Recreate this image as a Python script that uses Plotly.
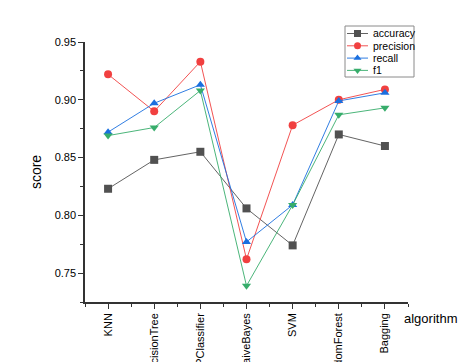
import plotly.graph_objects as go

categories = ["KNN", "DecisionTree", "MLPClassifier", "NaiveBayes", "SVM", "RandomForest", "Bagging"]
accuracy = [0.823, 0.848, 0.855, 0.806, 0.774, 0.870, 0.860]
precision = [0.922, 0.890, 0.933, 0.762, 0.878, 0.900, 0.909]
recall = [0.872, 0.897, 0.913, 0.777, 0.809, 0.899, 0.906]
f1 = [0.869, 0.876, 0.908, 0.739, 0.809, 0.887, 0.893]

series = [
    ("accuracy", accuracy, "#515151", "square"),
    ("precision", precision, "#F14040", "circle"),
    ("recall", recall, "#1A6FDF", "triangle-up"),
    ("f1", f1, "#37AD6B", "triangle-down"),
]

xpos = list(range(len(categories)))

# The page body has an 8px default margin; work in screen pixels and offset.
OFF = 8
SW, SH = 474, 362
W, H = SW - OFF, SH - OFF
# plot area (screen px)
L, R, T, B = 85, 408, 42, 302
TOP = 20  # top of the margin-enclosed area (screen px)


def px(x):
    return (x - L) / (R - L)


def py(y):
    return (B - y) / (B - TOP)


fig = go.Figure()
for name, vals, color, sym in series:
    fig.add_trace(go.Scatter(
        x=xpos, y=vals, name=name, mode="lines+markers",
        line=dict(color=color, width=0.9),
        marker=dict(symbol=sym, size=8, color=color),
        showlegend=False,
    ))

# compact legend box (Origin style)
lx0, lx1, ly0, ly1 = 345, 414, 26, 77
row0, rowh = 33.5, 12.3
shapes = [dict(type="rect", xref="paper", yref="paper", x0=px(lx0), x1=px(lx1),
               y0=py(ly0), y1=py(ly1),
               line=dict(color="#8a8a8a", width=1), fillcolor="white", layer="below")]
annotations = []
for i, (name, vals, color, sym) in enumerate(series):
    yy = row0 + i * rowh
    shapes.append(dict(type="line", xref="paper", yref="paper", x0=px(lx0 + 2), x1=px(lx0 + 23),
                       y0=py(yy), y1=py(yy), line=dict(color=color, width=0.9), layer="below"))
    fig.add_trace(go.Scatter(
        x=[lx0 + 12.5], y=[yy], xaxis="x3", yaxis="y3", mode="markers",
        marker=dict(symbol=sym, size=7, color=color), showlegend=False,
        cliponaxis=False, hoverinfo="skip",
    ))
    annotations.append(dict(text=name, x=px(lx0 + 26), y=py(yy), xref="paper", yref="paper",
                            xanchor="left", yanchor="middle", showarrow=False,
                            font=dict(size=10.5, color="#000")))

annotations.append(dict(text="algorithm", x=px(430.5), y=py(318), xref="paper", yref="paper",
                        xanchor="center", yanchor="middle", showarrow=False,
                        font=dict(size=13, color="#000")))

font_family = "Liberation Sans, Arial, sans-serif"
fig.update_layout(
    width=W, height=H,
    margin=dict(l=L - OFF, r=SW - R, t=TOP - OFF, b=SH - B),
    paper_bgcolor="white", plot_bgcolor="rgba(0,0,0,0)",
    font=dict(family=font_family, color="#000"),
    showlegend=False,
    xaxis=dict(
        range=[-0.5, 6.5], tickmode="array", tickvals=xpos, ticktext=categories,
        tickangle=-90, tickfont=dict(size=11), automargin=False,
        showline=True, linecolor="#333", linewidth=1.5,
        ticks="outside", ticklen=5, tickcolor="#333", tickwidth=1.2,
        minor=dict(tickmode="linear", tick0=-0.5, dtick=1, ticks="outside",
                   ticklen=3, tickcolor="#333", tickwidth=1.2),
        showgrid=False, zeroline=False, fixedrange=True,
    ),
    yaxis=dict(
        domain=[0, (B - T) / (B - TOP)],
        range=[0.725, 0.95], tickmode="array",
        tickvals=[0.75, 0.80, 0.85, 0.90, 0.95],
        ticktext=["0.75", "0.80", "0.85", "0.90", "0.95"],
        tickfont=dict(size=11), automargin=False,
        showline=True, linecolor="#333", linewidth=1.5,
        ticks="outside", ticklen=5, tickcolor="#333", tickwidth=1.2,
        minor=dict(tickmode="linear", tick0=0.725, dtick=0.05, ticks="outside",
                   ticklen=3, tickcolor="#333", tickwidth=1.2),
        showgrid=False, zeroline=False,
        title=dict(text="score", font=dict(size=14), standoff=10),
    ),
    xaxis3=dict(domain=[0, 1], anchor="y3", range=[L, R], visible=False, fixedrange=True),
    yaxis3=dict(domain=[0, 1], anchor="x3", range=[B, TOP], visible=False, fixedrange=True),
    shapes=shapes,
    annotations=annotations,
)

fig.write_html("out.html")
